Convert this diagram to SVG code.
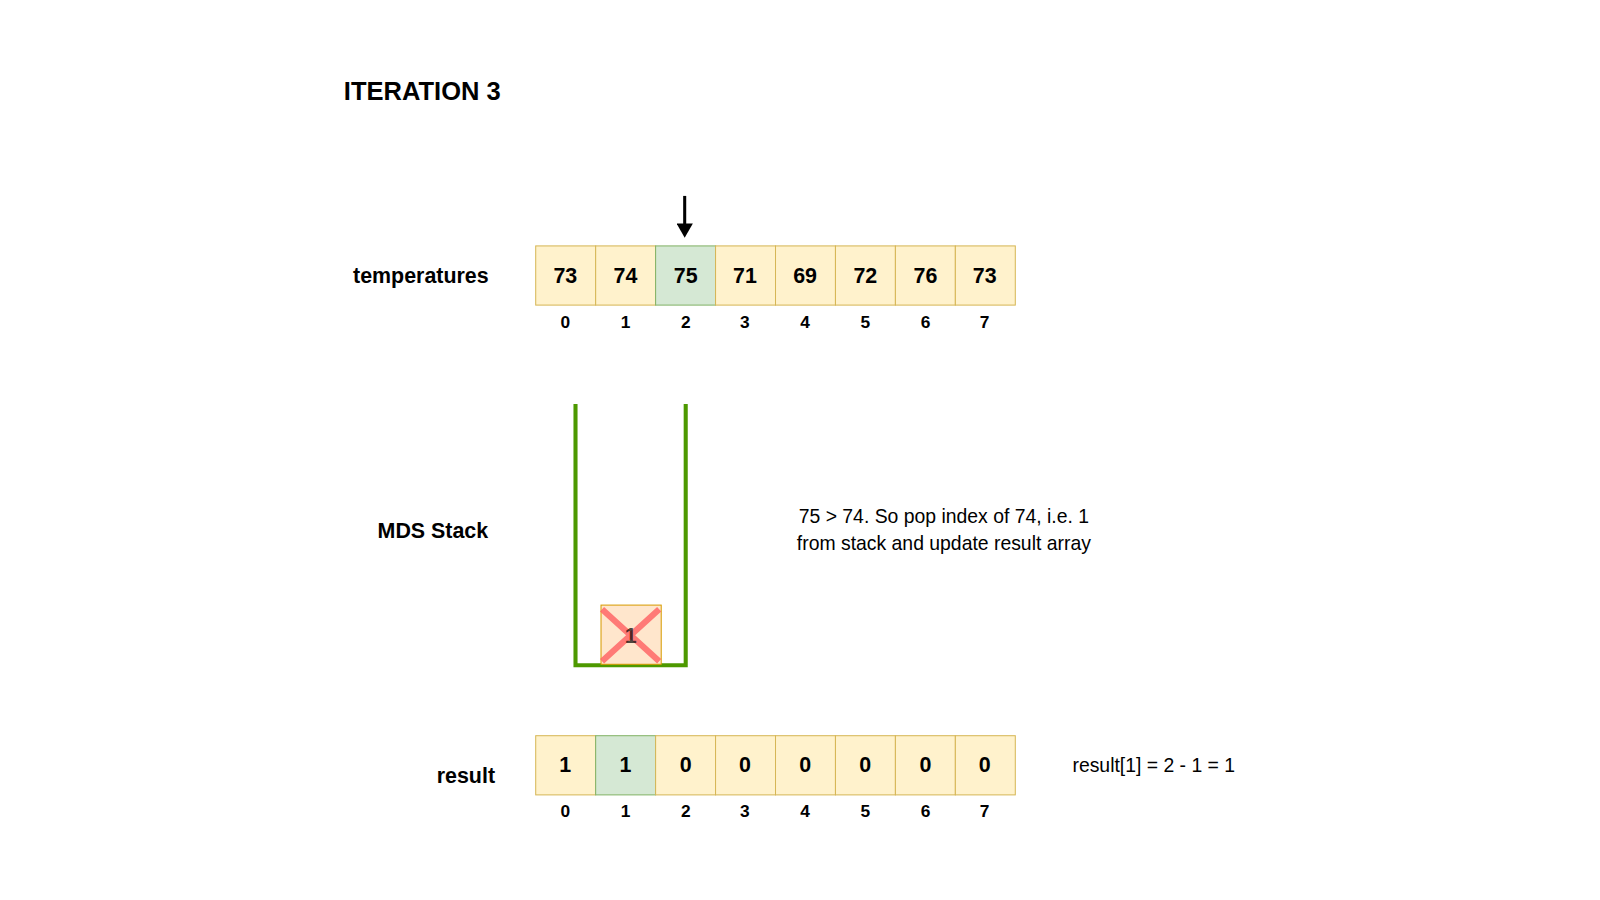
<svg xmlns="http://www.w3.org/2000/svg" width="1600" height="900" viewBox="0 0 1600 900">
<style>
text{font-family:"Liberation Sans",Arial,sans-serif;}
.c{fill:#FFF2CC;stroke:#D6B656;stroke-width:1}
.g{fill:#D5E8D4;stroke:#82B366;stroke-width:1}
.v{font-size:21px;font-weight:bold;text-anchor:middle;fill:#000}
.i{font-size:17px;font-weight:bold;text-anchor:middle;fill:#000}
.l{font-size:21px;font-weight:bold;fill:#000}
.n{font-size:19px;fill:#000}
</style>
<defs><marker id="ah" markerWidth="14" markerHeight="16" refX="7" refY="8" orient="auto" markerUnits="userSpaceOnUse"><path d="M0,0 L14,8 L0,16 Z" fill="#000"/></marker></defs>
<rect width="1600" height="900" fill="#fff"/>
<g transform="scale(1.0204)">
<text x="337" y="98" style="font-size:25px;font-weight:bold">ITERATION 3</text>
<g id="labels">
<text class="l" x="346" y="277">temperatures</text>
<text class="l" x="370" y="527">MDS Stack</text>
<text class="l" x="428" y="767">result</text>
</g>
<g id="temperatures">
<rect class="c" x="525" y="241" width="58.75" height="58"/><rect class="c" x="583.75" y="241" width="58.75" height="58"/><rect class="g" x="642.5" y="241" width="58.75" height="58"/><rect class="c" x="701.25" y="241" width="58.75" height="58"/><rect class="c" x="760" y="241" width="58.75" height="58"/><rect class="c" x="818.75" y="241" width="58.75" height="58"/><rect class="c" x="877.5" y="241" width="58.75" height="58"/><rect class="c" x="936.25" y="241" width="58.75" height="58"/>
<text class="v" x="554" y="277">73</text><text class="v" x="613" y="277">74</text><text class="v" x="672" y="277">75</text><text class="v" x="730" y="277">71</text><text class="v" x="789" y="277">69</text><text class="v" x="848" y="277">72</text><text class="v" x="907" y="277">76</text><text class="v" x="965" y="277">73</text>
<text class="i" x="554" y="321">0</text><text class="i" x="613" y="321">1</text><text class="i" x="672" y="321">2</text><text class="i" x="730" y="321">3</text><text class="i" x="789" y="321">4</text><text class="i" x="848" y="321">5</text><text class="i" x="907" y="321">6</text><text class="i" x="965" y="321">7</text>
</g>
<g id="result">
<rect class="c" x="525" y="721" width="58.75" height="58"/><rect class="g" x="583.75" y="721" width="58.75" height="58"/><rect class="c" x="642.5" y="721" width="58.75" height="58"/><rect class="c" x="701.25" y="721" width="58.75" height="58"/><rect class="c" x="760" y="721" width="58.75" height="58"/><rect class="c" x="818.75" y="721" width="58.75" height="58"/><rect class="c" x="877.5" y="721" width="58.75" height="58"/><rect class="c" x="936.25" y="721" width="58.75" height="58"/>
<text class="v" x="554" y="757">1</text><text class="v" x="613" y="757">1</text><text class="v" x="672" y="757">0</text><text class="v" x="730" y="757">0</text><text class="v" x="789" y="757">0</text><text class="v" x="848" y="757">0</text><text class="v" x="907" y="757">0</text><text class="v" x="965" y="757">0</text>
<text class="i" x="554" y="801">0</text><text class="i" x="613" y="801">1</text><text class="i" x="672" y="801">2</text><text class="i" x="730" y="801">3</text><text class="i" x="789" y="801">4</text><text class="i" x="848" y="801">5</text><text class="i" x="907" y="801">6</text><text class="i" x="965" y="801">7</text>
</g>
<g id="stack">
<path d="M564,396 V652 H672 V396" fill="none" stroke="#4D9900" stroke-width="4"/>
<rect x="589" y="593" width="59" height="58" fill="#FFE6CC" stroke="#D79B00"/>
<path d="M590,597 L646,648 M646,597 L590,648" stroke="#FF6666" stroke-width="6" stroke-opacity="0.85"/>
<text class="v" x="618" y="630" fill-opacity="0.7">1</text>
</g>
<g id="notes">
<text class="n" x="925" y="513" text-anchor="middle">75 &gt; 74. So pop index of 74, i.e. 1</text>
<text class="n" x="925" y="539" text-anchor="middle">from stack and update result array</text>
<text class="n" x="1051" y="757">result[1] = 2 - 1 = 1</text>
</g>
<g id="connectors">
<line x1="671" y1="192" x2="671" y2="226" stroke="#000" stroke-width="3" marker-end="url(#ah)"/>
</g>
</g>
</svg>
